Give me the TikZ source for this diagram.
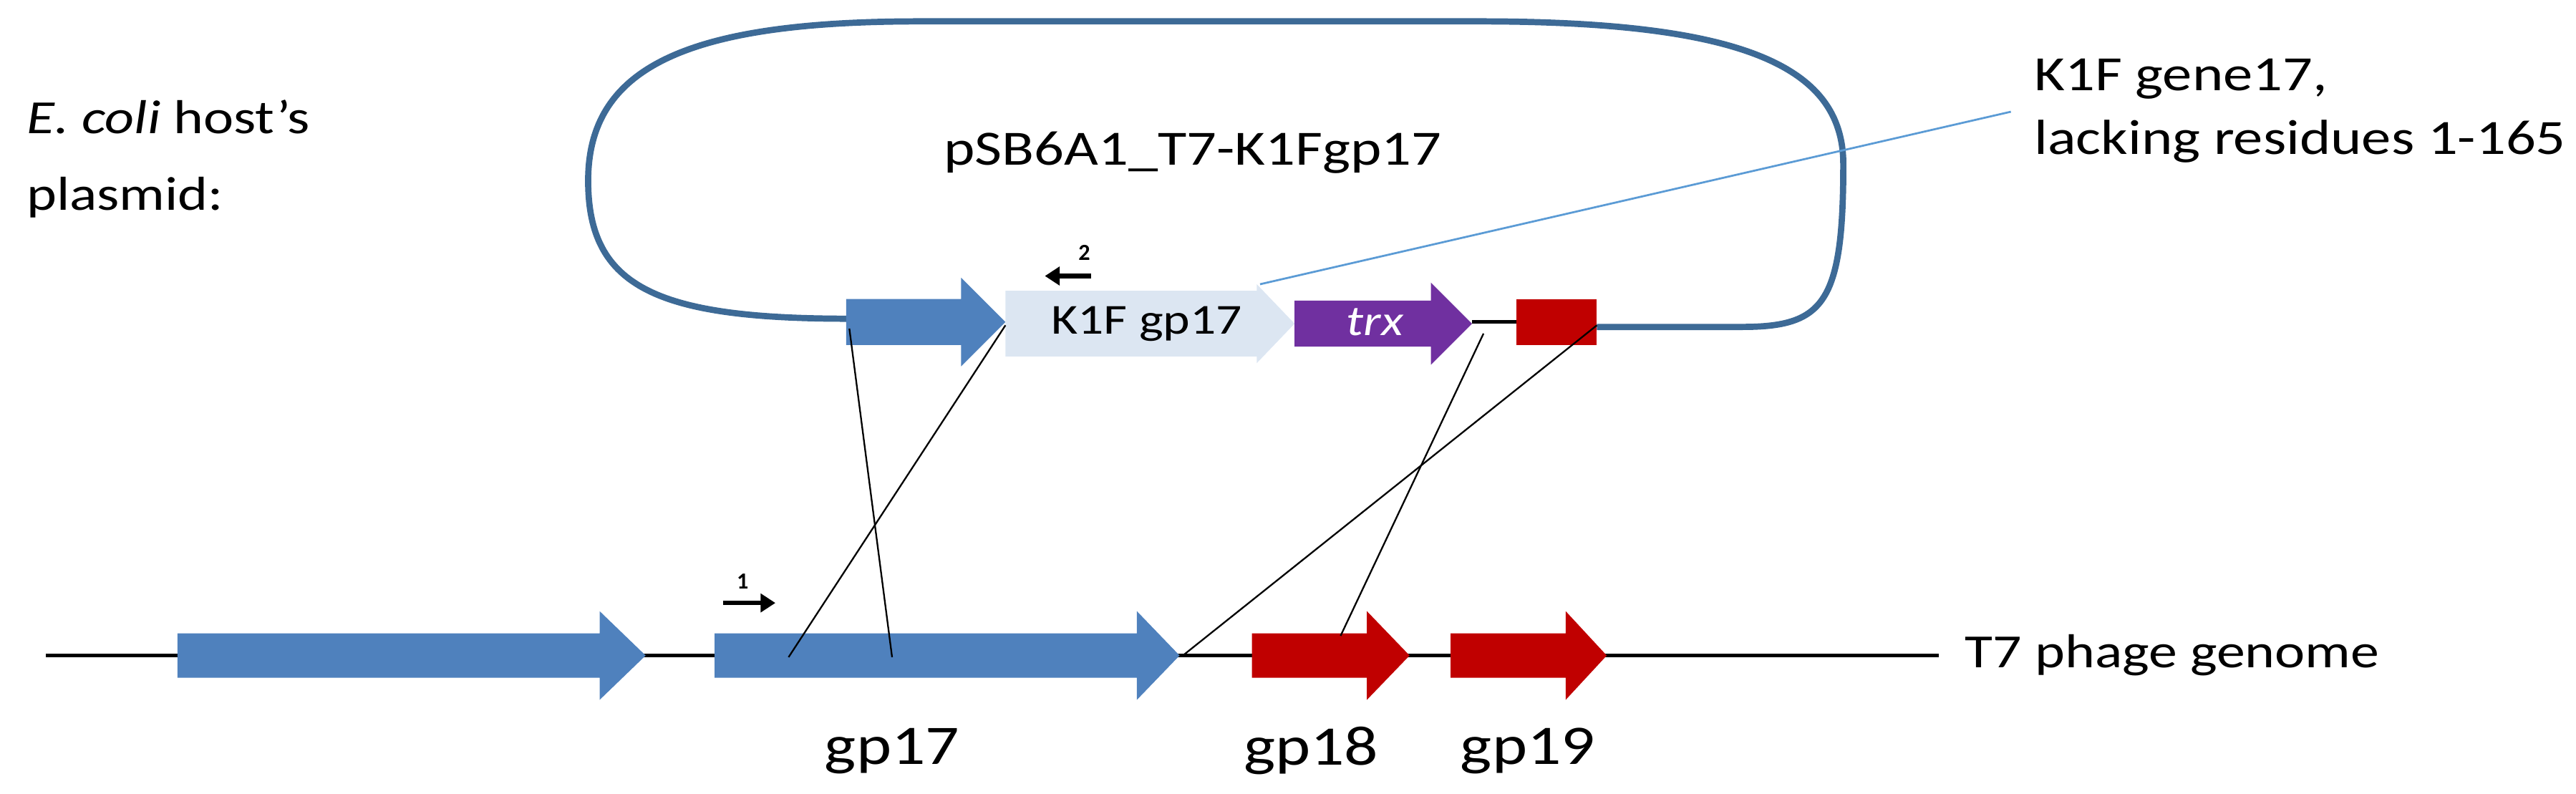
\documentclass[tikz,border=0pt]{standalone}
\usepackage{fontspec}
\setmainfont{Carlito}
\usetikzlibrary{arrows.meta}
\newcommand{\gArrow}[7]{% x0, xbody end, xtip, yc, half body, half head, color
  \fill[#7] (#1,#4-#5) -- (#2,#4-#5) -- (#2,#4-#6) -- (#3,#4) -- (#2,#4+#6) -- (#2,#4+#5) -- (#1,#4+#5) -- cycle;}
\newcommand{\wide}[1]{\scalebox{1.2}[1]{#1}}
\tikzset{
  lbl/.style={inner sep=0pt, anchor=center},
  cross/.style={black, line width=1pt},
  primer/.style={-{Triangle[length=9pt,width=11pt]}, line width=2.8pt},
}
\definecolor{gblue}{HTML}{4F81BD}
\definecolor{lblue}{HTML}{DCE6F2}
\definecolor{pline}{HTML}{3D6A96}
\definecolor{purp}{HTML}{7030A0}
\definecolor{gred}{HTML}{C00000}
\definecolor{ann}{HTML}{5B9BD5}
\begin{document}
\begin{tikzpicture}[x=1pt,y=-1pt]
\useasboundingbox (0,0) rectangle (1568,483);
% plasmid loop
\draw[pline, line width=3.8pt] (517,194) .. controls (400,194) and (358,175) .. (358,110) .. controls (358,40) and (420,13) .. (560,13) -- (900,13) .. controls (1060,13) and (1122,40) .. (1122,100) .. controls (1122,185) and (1110,199) .. (1060,199) -- (972,199);
\draw[black, line width=2pt] (896,196) -- (923,196);
% plasmid genes
\gArrow{515}{585}{612}{196}{14}{27}{gblue}
\gArrow{612}{765}{788}{197}{20}{24}{lblue}
\gArrow{788}{871}{896}{197}{14}{25}{purp}
\fill[gred] (923,182) rectangle (972,210);
\node[lbl, font=\fontsize{26}{28}\selectfont] (k1f) at (698,197) {\wide{K1F gp17}};
\node[lbl, font=\fontsize{26}{28}\selectfont\itshape, white] (trx) at (837,196) {\wide{trx}};
% genome
\draw[black, line width=2.5pt] (28,399) -- (1180,399);
\gArrow{108}{365}{393}{399}{13.5}{27}{gblue}
\gArrow{435}{692}{718}{399}{13.5}{27}{gblue}
\gArrow{762}{832}{858}{399}{13.5}{27}{gred}
\gArrow{883}{953}{978}{399}{13.5}{27}{gred}
\node[lbl, font=\fontsize{34}{36}\selectfont] (g17) at (543,457) {\wide{gp17}};
\node[lbl, font=\fontsize{34}{36}\selectfont] (g18) at (798,457) {\wide{gp18}};
\node[lbl, font=\fontsize{34}{36}\selectfont] (g19) at (930,457) {\wide{gp19}};
\node[anchor=west, inner sep=0pt, font=\fontsize{29}{31}\selectfont] (t7) at (1196,399) {\wide{T7 phage genome}};
% crossing lines
\coordinate (a1) at (517,200); \coordinate (b1) at (543,400);
\coordinate (a2) at (612,198); \coordinate (b2) at (480,400);
\coordinate (a3) at (903,203); \coordinate (b3) at (816,387);
\coordinate (a4) at (972,198); \coordinate (b4) at (720,399);
\draw[cross] (a1) -- (b1); \draw[cross] (a2) -- (b2);
\draw[cross] (a3) -- (b3); \draw[cross] (a4) -- (b4);
% primers
\coordinate (p1s) at (440,367); \coordinate (p1e) at (472,367);
\draw[primer] (p1s) -- (p1e);
\node[lbl, font=\fontsize{14}{14}\selectfont\bfseries] (n1) at (452,354) {1};
\coordinate (p2s) at (664,168); \coordinate (p2e) at (636,168);
\draw[primer] (p2s) -- (p2e);
\node[lbl, font=\fontsize{14}{14}\selectfont\bfseries] (n2) at (660,154) {2};
% annotation
\coordinate (an1) at (767,173); \coordinate (an2) at (1224,68);
\draw[ann, line width=1.2pt] (an1) -- (an2);
\node[lbl, anchor=west] (note1) at (1238,48) {\fontsize{30}{32}\selectfont\wide{K1F gene17,}};
\node[lbl, anchor=west] (note2) at (1238,86) {\fontsize{30}{32}\selectfont\wide{lacking residues 1-165}};
\node[lbl, anchor=west] (host1) at (16,71) {\fontsize{29}{31}\selectfont\wide{\textit{E. coli} host’s}};
\node[lbl, anchor=west] (host2) at (16,120) {\fontsize{29}{31}\selectfont\wide{plasmid:}};
\node[lbl] (ps) at (726,93) {\fontsize{30}{32}\selectfont\wide{pSB6A1\_T7-K1Fgp17}};
\end{tikzpicture}
\end{document}
